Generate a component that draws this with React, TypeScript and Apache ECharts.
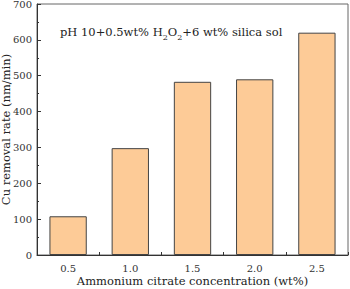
import React, { useEffect, useRef } from "react";
import * as echarts from "echarts";

const categories = ["0.5", "1.0", "1.5", "2.0", "2.5"];
const removalRates = [108, 298, 483, 490, 620];
const yTicks = { min: 0, max: 700, interval: 100 };
const xName = "Ammonium citrate concentration (wt%)";
const yName = "Cu removal rate (nm/min)";

const FONT = "'DejaVu Serif', 'Liberation Serif', serif";

export default function App() {
  const ref = useRef<HTMLDivElement>(null);
  useEffect(() => {
    if (!ref.current) return;
    const chart = echarts.init(ref.current, null, { renderer: "svg" });
    chart.setOption({
      animation: false,
      backgroundColor: "#fff",
      textStyle: { fontFamily: FONT },
      grid: {
        left: 37,
        right: 2,
        top: 4,
        bottom: 34,
        outerBoundsMode: "none",
        containLabel: false,
        show: true,
        borderColor: "#666",
        borderWidth: 1,
        backgroundColor: "transparent",
      },
      xAxis: [
        {
          type: "category",
          data: categories,
          boundaryGap: true,
          axisLine: { lineStyle: { color: "#333", width: 1 } },
          axisTick: { show: true, inside: true, alignWithLabel: true, length: 5, lineStyle: { color: "#333" } },
          axisLabel: { color: "#333", fontSize: 10, fontFamily: FONT, margin: 8 },
          name: xName,
          nameLocation: "middle",
          nameGap: 20,
          nameMoveOverlap: false,
          nameTextStyle: { color: "#222", fontSize: 11.5, fontFamily: FONT },
        },
        {
          type: "category",
          data: categories,
          position: "bottom",
          boundaryGap: true,
          axisLine: { show: false },
          axisTick: { show: true, inside: true, length: 3, lineStyle: { color: "#333" } },
          axisLabel: { show: false },
        },
      ],
      yAxis: {
        type: "value",
        min: yTicks.min,
        max: yTicks.max,
        interval: yTicks.interval,
        axisLine: { show: true, lineStyle: { color: "#333", width: 1 } },
        axisTick: { show: true, inside: true, length: 4, lineStyle: { color: "#333" } },
        minorTick: { show: true, splitNumber: 2, length: 2, lineStyle: { color: "#333" } },
        splitLine: { show: false },
        axisLabel: { color: "#333", fontSize: 10, fontFamily: FONT, margin: 5 },
        name: yName,
        nameLocation: "middle",
        nameGap: 25,
        nameMoveOverlap: false,
        nameRotate: 90,
        nameTextStyle: { color: "#222", fontSize: 11.5, fontFamily: FONT },
      },
      series: [
        {
          type: "bar",
          data: removalRates,
          barWidth: "60%",
          itemStyle: { color: "#FDCB97", borderColor: "#444", borderWidth: 1 },
        },
      ],
      graphic: [
        {
          type: "text",
          left: 60,
          top: 26,
          style: {
            text: "{a|pH 10+0.5wt% H}{s|2}{a|O}{s|2}{a|+6 wt% silica sol}",
            rich: {
              a: { fontSize: 11.5, fontFamily: FONT, fill: "#222", lineHeight: 15, verticalAlign: "bottom" },
              s: { fontSize: 8, fontFamily: FONT, fill: "#222", lineHeight: 15, verticalAlign: "bottom", padding: [0, 0, -3, 0] },
            },
          },
        },
      ],
    });
    return () => chart.dispose();
  }, []);
  return <div ref={ref} style={{ width: 350, height: 289, position: "absolute", left: 0, top: 0 }} />;
}
